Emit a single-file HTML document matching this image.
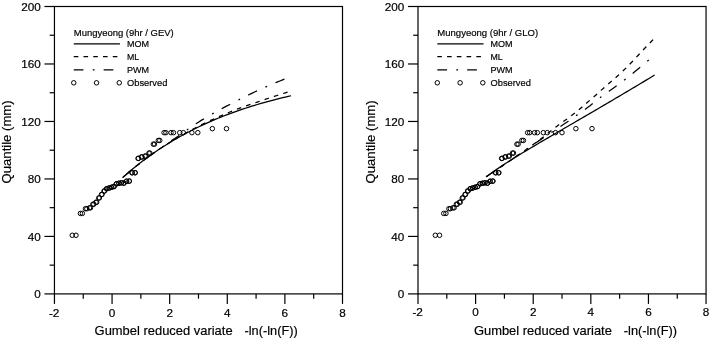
<!DOCTYPE html>
<html><head><meta charset="utf-8"><title>Quantile plots</title>
<style>
html,body{margin:0;padding:0;background:#fff;}
svg{display:block;}
text{font-family:"Liberation Sans",sans-serif;fill:#000;stroke:#000;stroke-width:0.18;}
.t{font-size:10.3px;}
.a{font-size:12.2px;}
.l{font-size:9.6px;}
.ax{stroke:#000;stroke-width:1.2;}
.c{fill:none;stroke:#000;stroke-width:1.25;}
.ml{stroke-dasharray:4.6 5.16;}
.pwm{stroke-dasharray:9.7 9.3 1.8 9.1;}
.o{fill:none;stroke:#000;stroke-width:1;}
</style></head><body>
<svg width="710" height="338" viewBox="0 0 710 338">
<rect width="710" height="338" fill="#fff"/>
<rect x="54.45" y="6.5" width="288.05" height="287.40" fill="none" class="ax"/>
<line x1="54.45" y1="293.9" x2="54.45" y2="303.9" class="ax"/>
<text x="48.91" y="316.8" class="t" textLength="10.49" lengthAdjust="spacingAndGlyphs">-2</text>
<line x1="83.25" y1="293.9" x2="83.25" y2="298.7" class="ax"/>
<line x1="112.06" y1="293.9" x2="112.06" y2="303.9" class="ax"/>
<text x="108.80" y="316.8" class="t" textLength="6.52" lengthAdjust="spacingAndGlyphs">0</text>
<line x1="140.87" y1="293.9" x2="140.87" y2="298.7" class="ax"/>
<line x1="169.67" y1="293.9" x2="169.67" y2="303.9" class="ax"/>
<text x="166.41" y="316.8" class="t" textLength="6.52" lengthAdjust="spacingAndGlyphs">2</text>
<line x1="198.48" y1="293.9" x2="198.48" y2="298.7" class="ax"/>
<line x1="227.28" y1="293.9" x2="227.28" y2="303.9" class="ax"/>
<text x="224.02" y="316.8" class="t" textLength="6.52" lengthAdjust="spacingAndGlyphs">4</text>
<line x1="256.08" y1="293.9" x2="256.08" y2="298.7" class="ax"/>
<line x1="284.89" y1="293.9" x2="284.89" y2="303.9" class="ax"/>
<text x="281.63" y="316.8" class="t" textLength="6.52" lengthAdjust="spacingAndGlyphs">6</text>
<line x1="313.69" y1="293.9" x2="313.69" y2="298.7" class="ax"/>
<line x1="342.50" y1="293.9" x2="342.50" y2="303.9" class="ax"/>
<text x="339.24" y="316.8" class="t" textLength="6.52" lengthAdjust="spacingAndGlyphs">8</text>
<line x1="44.45" y1="293.90" x2="54.45" y2="293.90" class="ax"/>
<text x="34.23" y="298.00" class="t" textLength="6.52" lengthAdjust="spacingAndGlyphs">0</text>
<line x1="49.650000000000006" y1="265.16" x2="54.45" y2="265.16" class="ax"/>
<line x1="44.45" y1="236.42" x2="54.45" y2="236.42" class="ax"/>
<text x="27.71" y="240.52" class="t" textLength="13.04" lengthAdjust="spacingAndGlyphs">40</text>
<line x1="49.650000000000006" y1="207.68" x2="54.45" y2="207.68" class="ax"/>
<line x1="44.45" y1="178.94" x2="54.45" y2="178.94" class="ax"/>
<text x="27.71" y="183.04" class="t" textLength="13.04" lengthAdjust="spacingAndGlyphs">80</text>
<line x1="49.650000000000006" y1="150.20" x2="54.45" y2="150.20" class="ax"/>
<line x1="44.45" y1="121.46" x2="54.45" y2="121.46" class="ax"/>
<text x="21.19" y="125.56" class="t" textLength="19.56" lengthAdjust="spacingAndGlyphs">120</text>
<line x1="49.650000000000006" y1="92.72" x2="54.45" y2="92.72" class="ax"/>
<line x1="44.45" y1="63.98" x2="54.45" y2="63.98" class="ax"/>
<text x="21.19" y="68.08" class="t" textLength="19.56" lengthAdjust="spacingAndGlyphs">160</text>
<line x1="49.650000000000006" y1="35.24" x2="54.45" y2="35.24" class="ax"/>
<line x1="44.45" y1="6.50" x2="54.45" y2="6.50" class="ax"/>
<text x="21.19" y="10.60" class="t" textLength="19.56" lengthAdjust="spacingAndGlyphs">200</text>
<text transform="translate(11.25,141.9) rotate(-90)" text-anchor="middle" class="a" textLength="83" lengthAdjust="spacingAndGlyphs">Quantile (mm)</text>
<text x="94.60" y="334.6" class="a" textLength="138" lengthAdjust="spacingAndGlyphs">Gumbel reduced variate</text>
<text x="244.50" y="334.6" class="a" textLength="53.2" lengthAdjust="spacingAndGlyphs">-ln(-ln(F))</text>
<text x="73.75" y="36" class="l" textLength="100" lengthAdjust="spacingAndGlyphs">Mungyeong (9hr / GEV)</text>
<line x1="73.75" y1="43.9" x2="119.95" y2="43.9" class="c"/>
<text x="127.0" y="46.7" class="l" textLength="22.1" lengthAdjust="spacingAndGlyphs">MOM</text>
<line x1="73.75" y1="56.7" x2="119.95" y2="56.7" class="c ml"/>
<text x="127.0" y="59.8" class="l" textLength="12.2" lengthAdjust="spacingAndGlyphs">ML</text>
<line x1="73.75" y1="69.8" x2="119.95" y2="69.8" class="c pwm"/>
<text x="127.0" y="72.8" class="l" textLength="22.1" lengthAdjust="spacingAndGlyphs">PWM</text>
<circle cx="73.75" cy="82.8" r="2.25" class="o"/>
<circle cx="96.55" cy="82.8" r="2.25" class="o"/>
<circle cx="119.25" cy="82.8" r="2.25" class="o"/>
<text x="127.0" y="85.9" class="l" textLength="40.3" lengthAdjust="spacingAndGlyphs">Observed</text>
<path d="M122.62 177.61 L125.42 175.12 L128.23 172.69 L131.04 170.32 L133.85 168.00 L136.65 165.73 L139.46 163.51 L142.27 161.34 L145.07 159.23 L147.88 157.16 L150.69 155.14 L153.50 153.16 L156.30 151.23 L159.11 149.34 L161.92 147.50 L164.72 145.70 L167.53 143.93 L170.34 142.21 L173.14 140.53 L175.95 138.89 L178.76 137.28 L181.57 135.71 L184.37 134.18 L187.18 132.68 L189.99 131.21 L192.79 129.78 L195.60 128.38 L198.41 127.01 L201.22 125.68 L204.02 124.37 L206.83 123.09 L209.64 121.85 L212.44 120.63 L215.25 119.43 L218.06 118.27 L220.87 117.13 L223.67 116.02 L226.48 114.93 L229.29 113.87 L232.09 112.83 L234.90 111.82 L237.71 110.83 L240.52 109.86 L243.32 108.91 L246.13 107.99 L248.94 107.08 L251.74 106.20 L254.55 105.34 L257.36 104.49 L260.16 103.67 L262.97 102.86 L265.78 102.08 L268.59 101.31 L271.39 100.55 L274.20 99.82 L277.01 99.10 L279.81 98.40 L282.62 97.71 L285.43 97.04 L288.24 96.39 L291.04 95.75" class="c"/>
<path d="M122.62 177.61 L125.42 175.16 L128.23 172.76 L131.04 170.40 L133.85 168.09 L136.65 165.82 L139.46 163.60 L142.27 161.42 L145.07 159.28 L147.88 157.19 L150.69 155.15 L153.50 153.15 L156.30 151.21 L159.11 149.31 L161.92 147.46 L164.72 145.64 L167.53 143.87 L170.34 142.13 L173.14 140.42 L175.95 138.73 L178.76 137.08 L181.57 135.45 L184.37 133.85 L187.18 132.27 L189.99 130.73 L192.79 129.22 L195.60 127.74 L198.41 126.30 L201.22 124.88 L204.02 123.51 L206.83 122.16 L209.64 120.85 L212.44 119.56 L215.25 118.30 L218.06 117.06 L220.87 115.83 L223.67 114.63 L226.48 113.44 L229.29 112.28 L232.09 111.14 L234.90 110.03 L237.71 108.94 L240.52 107.89 L243.32 106.87 L246.13 105.88 L248.94 104.92 L251.74 103.97 L254.55 103.02 L257.36 102.07 L260.16 101.12 L262.97 100.16 L265.78 99.21 L268.59 98.26 L271.39 97.32 L274.20 96.39 L277.01 95.47 L279.81 94.56 L282.62 93.67 L285.43 92.80 L288.24 91.96 L291.04 91.14" class="c ml" stroke-dashoffset="2.7"/>
<path d="M122.62 177.61 L125.42 175.20 L128.23 172.82 L131.04 170.48 L133.85 168.17 L136.65 165.89 L139.46 163.65 L142.27 161.45 L145.07 159.28 L147.88 157.15 L150.69 155.05 L153.50 152.98 L156.30 150.98 L159.11 149.03 L161.92 147.12 L164.72 145.24 L167.53 143.37 L170.34 141.49 L173.14 139.61 L175.95 137.70 L178.76 135.75 L181.57 133.77 L184.37 131.78 L187.18 129.80 L189.99 127.83 L192.79 125.89 L195.60 124.00 L198.41 122.16 L201.22 120.40 L204.02 118.70 L206.83 117.05 L209.64 115.44 L212.44 113.84 L215.25 112.26 L218.06 110.71 L220.87 109.18 L223.67 107.66 L226.48 106.16 L229.29 104.68 L232.09 103.21 L234.90 101.75 L237.71 100.32 L240.52 98.90 L243.32 97.49 L246.13 96.09 L248.94 94.72 L251.74 93.37 L254.55 92.04 L257.36 90.73 L260.16 89.44 L262.97 88.17 L265.78 86.92 L268.59 85.69 L271.39 84.49 L274.20 83.30 L277.01 82.13 L279.81 80.98 L282.62 79.87 L285.43 78.75 L288.24 77.57 L291.04 76.34" class="c pwm" stroke-dashoffset="-1.2"/>
<circle cx="72.25" cy="235.27" r="2.25" class="o"/>
<circle cx="76.00" cy="235.27" r="2.25" class="o"/>
<circle cx="80.40" cy="213.43" r="2.25" class="o"/>
<circle cx="82.37" cy="213.43" r="2.25" class="o"/>
<circle cx="85.48" cy="208.69" r="2.25" class="o"/>
<circle cx="86.87" cy="208.69" r="2.25" class="o"/>
<circle cx="89.47" cy="207.82" r="2.25" class="o"/>
<circle cx="90.55" cy="207.82" r="2.25" class="o"/>
<circle cx="92.88" cy="204.23" r="2.25" class="o"/>
<circle cx="93.77" cy="204.23" r="2.25" class="o"/>
<circle cx="95.95" cy="202.22" r="2.25" class="o"/>
<circle cx="96.69" cy="202.22" r="2.25" class="o"/>
<circle cx="98.79" cy="197.91" r="2.25" class="o"/>
<circle cx="99.42" cy="197.91" r="2.25" class="o"/>
<circle cx="101.48" cy="194.46" r="2.25" class="o"/>
<circle cx="102.02" cy="194.46" r="2.25" class="o"/>
<circle cx="104.06" cy="191.01" r="2.25" class="o"/>
<circle cx="104.52" cy="191.01" r="2.25" class="o"/>
<circle cx="106.56" cy="188.71" r="2.25" class="o"/>
<circle cx="106.95" cy="188.71" r="2.25" class="o"/>
<circle cx="109.03" cy="187.99" r="2.25" class="o"/>
<circle cx="109.35" cy="187.99" r="2.25" class="o"/>
<circle cx="111.46" cy="187.27" r="2.25" class="o"/>
<circle cx="111.73" cy="187.27" r="2.25" class="o"/>
<circle cx="113.90" cy="186.56" r="2.25" class="o"/>
<circle cx="114.10" cy="186.56" r="2.25" class="o"/>
<circle cx="116.34" cy="183.83" r="2.25" class="o"/>
<circle cx="116.49" cy="183.83" r="2.25" class="o"/>
<circle cx="118.82" cy="183.25" r="2.25" class="o"/>
<circle cx="118.91" cy="183.25" r="2.25" class="o"/>
<circle cx="121.34" cy="182.82" r="2.25" class="o"/>
<circle cx="121.37" cy="182.82" r="2.25" class="o"/>
<circle cx="123.92" cy="183.11" r="2.25" class="o"/>
<circle cx="123.89" cy="183.11" r="2.25" class="o"/>
<circle cx="126.58" cy="181.24" r="2.25" class="o"/>
<circle cx="126.48" cy="181.24" r="2.25" class="o"/>
<circle cx="129.34" cy="181.10" r="2.25" class="o"/>
<circle cx="129.17" cy="181.10" r="2.25" class="o"/>
<circle cx="132.23" cy="172.76" r="2.25" class="o"/>
<circle cx="131.98" cy="172.76" r="2.25" class="o"/>
<circle cx="135.27" cy="172.76" r="2.25" class="o"/>
<circle cx="134.93" cy="172.76" r="2.25" class="o"/>
<circle cx="138.51" cy="158.39" r="2.25" class="o"/>
<circle cx="138.06" cy="158.39" r="2.25" class="o"/>
<circle cx="141.97" cy="156.95" r="2.25" class="o"/>
<circle cx="141.41" cy="156.95" r="2.25" class="o"/>
<circle cx="145.73" cy="156.09" r="2.25" class="o"/>
<circle cx="145.02" cy="156.09" r="2.25" class="o"/>
<circle cx="149.86" cy="153.07" r="2.25" class="o"/>
<circle cx="148.97" cy="153.07" r="2.25" class="o"/>
<circle cx="154.47" cy="144.16" r="2.25" class="o"/>
<circle cx="153.36" cy="144.16" r="2.25" class="o"/>
<circle cx="159.74" cy="140.43" r="2.25" class="o"/>
<circle cx="158.32" cy="140.43" r="2.25" class="o"/>
<circle cx="165.92" cy="132.67" r="2.25" class="o"/>
<circle cx="164.08" cy="132.67" r="2.25" class="o"/>
<circle cx="173.48" cy="132.67" r="2.25" class="o"/>
<circle cx="171.00" cy="132.67" r="2.25" class="o"/>
<circle cx="183.34" cy="132.67" r="2.25" class="o"/>
<circle cx="179.77" cy="132.67" r="2.25" class="o"/>
<circle cx="197.80" cy="132.67" r="2.25" class="o"/>
<circle cx="191.92" cy="132.67" r="2.25" class="o"/>
<circle cx="226.51" cy="128.65" r="2.25" class="o"/>
<circle cx="212.33" cy="128.65" r="2.25" class="o"/>
<rect x="418.0" y="6.5" width="288.05" height="287.40" fill="none" class="ax"/>
<line x1="418.00" y1="293.9" x2="418.00" y2="303.9" class="ax"/>
<text x="412.45" y="315.7" class="t" textLength="10.49" lengthAdjust="spacingAndGlyphs">-2</text>
<line x1="446.81" y1="293.9" x2="446.81" y2="298.7" class="ax"/>
<line x1="475.61" y1="293.9" x2="475.61" y2="303.9" class="ax"/>
<text x="472.35" y="315.7" class="t" textLength="6.52" lengthAdjust="spacingAndGlyphs">0</text>
<line x1="504.41" y1="293.9" x2="504.41" y2="298.7" class="ax"/>
<line x1="533.22" y1="293.9" x2="533.22" y2="303.9" class="ax"/>
<text x="529.96" y="315.7" class="t" textLength="6.52" lengthAdjust="spacingAndGlyphs">2</text>
<line x1="562.02" y1="293.9" x2="562.02" y2="298.7" class="ax"/>
<line x1="590.83" y1="293.9" x2="590.83" y2="303.9" class="ax"/>
<text x="587.57" y="315.7" class="t" textLength="6.52" lengthAdjust="spacingAndGlyphs">4</text>
<line x1="619.63" y1="293.9" x2="619.63" y2="298.7" class="ax"/>
<line x1="648.44" y1="293.9" x2="648.44" y2="303.9" class="ax"/>
<text x="645.18" y="315.7" class="t" textLength="6.52" lengthAdjust="spacingAndGlyphs">6</text>
<line x1="677.25" y1="293.9" x2="677.25" y2="298.7" class="ax"/>
<line x1="706.05" y1="293.9" x2="706.05" y2="303.9" class="ax"/>
<text x="702.79" y="315.7" class="t" textLength="6.52" lengthAdjust="spacingAndGlyphs">8</text>
<line x1="408.0" y1="293.90" x2="418.0" y2="293.90" class="ax"/>
<text x="397.78" y="298.00" class="t" textLength="6.52" lengthAdjust="spacingAndGlyphs">0</text>
<line x1="413.2" y1="265.16" x2="418.0" y2="265.16" class="ax"/>
<line x1="408.0" y1="236.42" x2="418.0" y2="236.42" class="ax"/>
<text x="391.26" y="240.52" class="t" textLength="13.04" lengthAdjust="spacingAndGlyphs">40</text>
<line x1="413.2" y1="207.68" x2="418.0" y2="207.68" class="ax"/>
<line x1="408.0" y1="178.94" x2="418.0" y2="178.94" class="ax"/>
<text x="391.26" y="183.04" class="t" textLength="13.04" lengthAdjust="spacingAndGlyphs">80</text>
<line x1="413.2" y1="150.20" x2="418.0" y2="150.20" class="ax"/>
<line x1="408.0" y1="121.46" x2="418.0" y2="121.46" class="ax"/>
<text x="384.74" y="125.56" class="t" textLength="19.56" lengthAdjust="spacingAndGlyphs">120</text>
<line x1="413.2" y1="92.72" x2="418.0" y2="92.72" class="ax"/>
<line x1="408.0" y1="63.98" x2="418.0" y2="63.98" class="ax"/>
<text x="384.74" y="68.08" class="t" textLength="19.56" lengthAdjust="spacingAndGlyphs">160</text>
<line x1="413.2" y1="35.24" x2="418.0" y2="35.24" class="ax"/>
<line x1="408.0" y1="6.50" x2="418.0" y2="6.50" class="ax"/>
<text x="384.74" y="10.60" class="t" textLength="19.56" lengthAdjust="spacingAndGlyphs">200</text>
<text transform="translate(374.8,141.9) rotate(-90)" text-anchor="middle" class="a" textLength="83" lengthAdjust="spacingAndGlyphs">Quantile (mm)</text>
<text x="473.90" y="334.6" class="a" textLength="138" lengthAdjust="spacingAndGlyphs">Gumbel reduced variate</text>
<text x="623.80" y="334.6" class="a" textLength="53.2" lengthAdjust="spacingAndGlyphs">-ln(-ln(F))</text>
<text x="437.3" y="36" class="l" textLength="100.8" lengthAdjust="spacingAndGlyphs">Mungyeong (9hr / GLO)</text>
<line x1="437.3" y1="43.9" x2="483.5" y2="43.9" class="c"/>
<text x="490.55" y="46.7" class="l" textLength="22.1" lengthAdjust="spacingAndGlyphs">MOM</text>
<line x1="437.3" y1="56.7" x2="483.5" y2="56.7" class="c ml"/>
<text x="490.55" y="59.8" class="l" textLength="12.2" lengthAdjust="spacingAndGlyphs">ML</text>
<line x1="437.3" y1="69.8" x2="483.5" y2="69.8" class="c pwm"/>
<text x="490.55" y="72.8" class="l" textLength="22.1" lengthAdjust="spacingAndGlyphs">PWM</text>
<circle cx="437.30" cy="82.8" r="2.25" class="o"/>
<circle cx="460.10" cy="82.8" r="2.25" class="o"/>
<circle cx="482.80" cy="82.8" r="2.25" class="o"/>
<text x="490.55" y="85.9" class="l" textLength="40.3" lengthAdjust="spacingAndGlyphs">Observed</text>
<path d="M486.17 176.78 L488.97 174.73 L491.78 172.73 L494.59 170.78 L497.40 168.86 L500.20 166.98 L503.01 165.14 L505.82 163.32 L508.62 161.52 L511.43 159.75 L514.24 157.99 L517.05 156.26 L519.85 154.54 L522.66 152.83 L525.47 151.13 L528.27 149.45 L531.08 147.78 L533.89 146.11 L536.69 144.45 L539.50 142.79 L542.31 141.14 L545.12 139.50 L547.92 137.86 L550.73 136.22 L553.54 134.59 L556.34 132.95 L559.15 131.32 L561.96 129.69 L564.77 128.06 L567.57 126.43 L570.38 124.80 L573.19 123.17 L575.99 121.54 L578.80 119.91 L581.61 118.28 L584.42 116.64 L587.22 115.01 L590.03 113.37 L592.84 111.74 L595.64 110.10 L598.45 108.45 L601.26 106.81 L604.07 105.16 L606.87 103.51 L609.68 101.86 L612.49 100.21 L615.29 98.55 L618.10 96.89 L620.91 95.23 L623.71 93.57 L626.52 91.90 L629.33 90.23 L632.14 88.56 L634.94 86.88 L637.75 85.21 L640.56 83.52 L643.36 81.84 L646.17 80.15 L648.98 78.46 L651.79 76.77 L654.59 75.07" class="c"/>
<path d="M486.17 176.78 L488.97 174.92 L491.78 173.04 L494.59 171.16 L497.40 169.27 L500.20 167.37 L503.01 165.46 L505.82 163.55 L508.62 161.63 L511.43 159.70 L514.24 157.77 L517.05 155.85 L519.85 153.92 L522.66 152.00 L525.47 150.06 L528.27 148.10 L531.08 146.12 L533.89 144.11 L536.69 142.06 L539.50 139.97 L542.31 137.80 L545.12 135.58 L547.92 133.33 L550.73 131.07 L553.54 128.84 L556.34 126.65 L559.15 124.53 L561.96 122.50 L564.77 120.51 L567.57 118.51 L570.38 116.45 L573.19 114.30 L575.99 112.06 L578.80 109.76 L581.61 107.41 L584.42 105.02 L587.22 102.59 L590.03 100.14 L592.84 97.68 L595.64 95.21 L598.45 92.67 L601.26 90.15 L604.07 87.69 L606.87 85.25 L609.68 82.82 L612.49 80.39 L615.29 77.93 L618.10 75.43 L620.91 72.85 L623.71 70.20 L626.52 67.44 L629.33 64.61 L632.14 61.70 L634.94 58.75 L637.75 55.77 L640.56 52.77 L643.36 49.77 L646.17 46.79 L648.98 43.85 L651.79 40.96 L654.59 38.11" class="c ml" stroke-dashoffset="2.7"/>
<path d="M486.17 176.78 L488.97 174.90 L491.78 173.01 L494.59 171.12 L497.40 169.23 L500.20 167.33 L503.01 165.42 L505.82 163.52 L508.62 161.61 L511.43 159.70 L514.24 157.78 L517.05 155.85 L519.85 153.91 L522.66 151.97 L525.47 150.02 L528.27 148.07 L531.08 146.13 L533.89 144.20 L536.69 142.29 L539.50 140.39 L542.31 138.51 L545.12 136.65 L547.92 134.80 L550.73 132.96 L553.54 131.11 L556.34 129.25 L559.15 127.38 L561.96 125.50 L564.77 123.59 L567.57 121.64 L570.38 119.68 L573.19 117.70 L575.99 115.71 L578.80 113.73 L581.61 111.76 L584.42 109.78 L587.22 107.76 L590.03 105.68 L592.84 103.49 L595.64 101.24 L598.45 98.99 L601.26 96.80 L604.07 94.72 L606.87 92.70 L609.68 90.70 L612.49 88.69 L615.29 86.65 L618.10 84.62 L620.91 82.56 L623.71 80.48 L626.52 78.33 L629.33 76.13 L632.14 73.88 L634.94 71.60 L637.75 69.30 L640.56 66.97 L643.36 64.61 L646.17 62.23 L648.98 59.85 L651.79 57.46 L654.59 55.07" class="c pwm" stroke-dashoffset="0"/>
<circle cx="435.32" cy="235.27" r="2.25" class="o"/>
<circle cx="439.55" cy="235.27" r="2.25" class="o"/>
<circle cx="443.73" cy="213.43" r="2.25" class="o"/>
<circle cx="445.92" cy="213.43" r="2.25" class="o"/>
<circle cx="448.88" cy="208.69" r="2.25" class="o"/>
<circle cx="450.42" cy="208.69" r="2.25" class="o"/>
<circle cx="452.90" cy="207.82" r="2.25" class="o"/>
<circle cx="454.10" cy="207.82" r="2.25" class="o"/>
<circle cx="456.34" cy="204.23" r="2.25" class="o"/>
<circle cx="457.32" cy="204.23" r="2.25" class="o"/>
<circle cx="459.43" cy="202.22" r="2.25" class="o"/>
<circle cx="460.24" cy="202.22" r="2.25" class="o"/>
<circle cx="462.28" cy="197.91" r="2.25" class="o"/>
<circle cx="462.97" cy="197.91" r="2.25" class="o"/>
<circle cx="464.97" cy="194.46" r="2.25" class="o"/>
<circle cx="465.57" cy="194.46" r="2.25" class="o"/>
<circle cx="467.56" cy="191.01" r="2.25" class="o"/>
<circle cx="468.07" cy="191.01" r="2.25" class="o"/>
<circle cx="470.07" cy="188.71" r="2.25" class="o"/>
<circle cx="470.50" cy="188.71" r="2.25" class="o"/>
<circle cx="472.54" cy="187.99" r="2.25" class="o"/>
<circle cx="472.90" cy="187.99" r="2.25" class="o"/>
<circle cx="474.99" cy="187.27" r="2.25" class="o"/>
<circle cx="475.28" cy="187.27" r="2.25" class="o"/>
<circle cx="477.42" cy="186.56" r="2.25" class="o"/>
<circle cx="477.65" cy="186.56" r="2.25" class="o"/>
<circle cx="479.88" cy="183.83" r="2.25" class="o"/>
<circle cx="480.04" cy="183.83" r="2.25" class="o"/>
<circle cx="482.36" cy="183.25" r="2.25" class="o"/>
<circle cx="482.46" cy="183.25" r="2.25" class="o"/>
<circle cx="484.88" cy="182.82" r="2.25" class="o"/>
<circle cx="484.92" cy="182.82" r="2.25" class="o"/>
<circle cx="487.47" cy="183.11" r="2.25" class="o"/>
<circle cx="487.44" cy="183.11" r="2.25" class="o"/>
<circle cx="490.14" cy="181.24" r="2.25" class="o"/>
<circle cx="490.03" cy="181.24" r="2.25" class="o"/>
<circle cx="492.91" cy="181.10" r="2.25" class="o"/>
<circle cx="492.72" cy="181.10" r="2.25" class="o"/>
<circle cx="495.81" cy="172.76" r="2.25" class="o"/>
<circle cx="495.53" cy="172.76" r="2.25" class="o"/>
<circle cx="498.86" cy="172.76" r="2.25" class="o"/>
<circle cx="498.48" cy="172.76" r="2.25" class="o"/>
<circle cx="502.10" cy="158.39" r="2.25" class="o"/>
<circle cx="501.61" cy="158.39" r="2.25" class="o"/>
<circle cx="505.58" cy="156.95" r="2.25" class="o"/>
<circle cx="504.96" cy="156.95" r="2.25" class="o"/>
<circle cx="509.35" cy="156.09" r="2.25" class="o"/>
<circle cx="508.57" cy="156.09" r="2.25" class="o"/>
<circle cx="513.50" cy="153.07" r="2.25" class="o"/>
<circle cx="512.52" cy="153.07" r="2.25" class="o"/>
<circle cx="518.14" cy="144.16" r="2.25" class="o"/>
<circle cx="516.91" cy="144.16" r="2.25" class="o"/>
<circle cx="523.44" cy="140.43" r="2.25" class="o"/>
<circle cx="521.87" cy="140.43" r="2.25" class="o"/>
<circle cx="529.66" cy="132.67" r="2.25" class="o"/>
<circle cx="527.63" cy="132.67" r="2.25" class="o"/>
<circle cx="537.30" cy="132.67" r="2.25" class="o"/>
<circle cx="534.55" cy="132.67" r="2.25" class="o"/>
<circle cx="547.28" cy="132.67" r="2.25" class="o"/>
<circle cx="543.32" cy="132.67" r="2.25" class="o"/>
<circle cx="562.03" cy="132.67" r="2.25" class="o"/>
<circle cx="555.47" cy="132.67" r="2.25" class="o"/>
<circle cx="592.00" cy="128.65" r="2.25" class="o"/>
<circle cx="575.88" cy="128.65" r="2.25" class="o"/>
</svg>
</body></html>
